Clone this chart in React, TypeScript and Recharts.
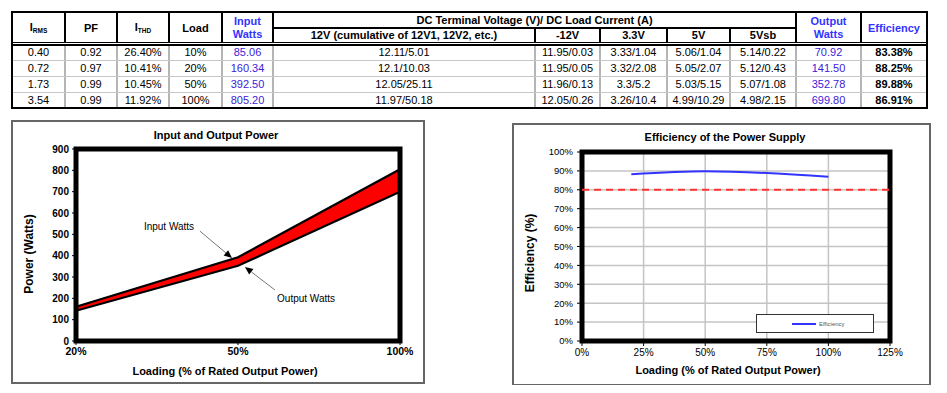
import React from 'react';
import {
  ComposedChart,
  LineChart,
  Area,
  Line,
  XAxis,
  YAxis,
  CartesianGrid,
  ReferenceArea,
  ReferenceLine,
  ReferenceDot,
  Legend,
} from 'recharts';

// ---------------- data ----------------
const irms = [0.4, 0.72, 1.73, 3.54];
const powerFactor = [0.92, 0.97, 0.99, 0.99];
const ithd = [26.4, 10.41, 10.45, 11.92];
const loadPct = [10, 20, 50, 100];
const inputWatts = [85.06, 160.34, 392.5, 805.2];
const rail12V = ['12.11/5.01', '12.1/10.03', '12.05/25.11', '11.97/50.18'];
const railMinus12V = ['11.95/0.03', '11.95/0.05', '11.96/0.13', '12.05/0.26'];
const rail3V3 = ['3.33/1.04', '3.32/2.08', '3.3/5.2', '3.26/10.4'];
const rail5V = ['5.06/1.04', '5.05/2.07', '5.03/5.15', '4.99/10.29'];
const rail5Vsb = ['5.14/0.22', '5.12/0.43', '5.07/1.08', '4.98/2.15'];
const outputWatts = [70.92, 141.5, 352.78, 699.8];
const efficiency = [83.38, 88.25, 89.88, 86.91];

const powerTicks = [0, 100, 200, 300, 400, 500, 600, 700, 800, 900];
const effYTicks = [0, 10, 20, 30, 40, 50, 60, 70, 80, 90, 100];
const effXTicks = [0, 25, 50, 75, 100, 125];
const efficiencyTarget = 80;

// rows shown in the charts (20%, 50%, 100%)
const chartRows = [1, 2, 3];

const powerData = chartRows.map((r, i) => ({
  x: i,
  label: loadPct[r] + '%',
  input: inputWatts[r],
  output: outputWatts[r],
}));

const effData = chartRows.map((r) => ({ load: loadPct[r], eff: efficiency[r] }));

const powerNotes = [
  { text: 'Input Watts', at: [0.574, 539], from: [0.765, 515], to: [0.963, 389] },
  { text: 'Output Watts', at: [1.42, 201], from: [1.228, 239], to: [1.043, 347] },
];

// ---------------- styling ----------------
const FONT = '"Liberation Sans", Arial, Helvetica, sans-serif';
const BLUE_HEAD = '#3333ff';
const BLUE_VAL = '#3b22d8';
const COLS = [12, 65, 117, 169, 222, 273, 535, 600, 667, 730, 796, 861, 927];
const T_TOP = 12;
const T_MID = 28;
const T_HEAD = 44;
const ROW_H = 16;

function Cell(props: { x1: number; x2: number; y1: number; y2: number; children: any; style?: any }) {
  const { x1, x2, y1, y2, children, style } = props;
  return (
    <div
      style={{
        position: 'absolute',
        left: x1,
        top: y1,
        width: x2 - x1,
        height: y2 - y1,
        display: 'flex',
        flexDirection: 'column',
        alignItems: 'center',
        justifyContent: 'center',
        textAlign: 'center',
        lineHeight: '13px',
        whiteSpace: 'nowrap',
        ...style,
      }}
    >
      {children}
    </div>
  );
}

function HLine({ x1, x2, y, color, w }: any) {
  return <div style={{ position: 'absolute', left: x1, top: y - w / 2, width: x2 - x1, height: w, background: color }} />;
}
function VLine({ x, y1, y2, color, w }: any) {
  return <div style={{ position: 'absolute', left: x - w / 2, top: y1, width: w, height: y2 - y1, background: color }} />;
}

function SpecTable() {
  const head = { fontWeight: 'bold', fontSize: 11 };
  const rowsCount = irms.length;
  const bottom = T_HEAD + ROW_H * rowsCount;
  const lines: any[] = [];
  // header verticals
  [1, 2, 3, 4, 5, 10, 11].forEach((c) =>
    lines.push(<VLine key={'hv' + c} x={COLS[c]} y1={T_TOP} y2={T_HEAD - 1} color="#000" w={1.2} />)
  );
  [6, 7, 8, 9].forEach((c) =>
    lines.push(<VLine key={'hs' + c} x={COLS[c]} y1={T_MID} y2={T_HEAD - 1} color="#000" w={1.2} />)
  );
  // data verticals
  for (let c = 1; c < COLS.length - 1; c++) {
    lines.push(<VLine key={'dv' + c} x={COLS[c]} y1={T_HEAD + 2} y2={bottom} color="#b4b4b4" w={2} />);
  }
  // data horizontals
  for (let r = 1; r < rowsCount; r++) {
    lines.push(<HLine key={'dh' + r} x1={COLS[0]} x2={COLS[COLS.length - 1]} y={T_HEAD + ROW_H * r} color="#c8c8c8" w={1} />);
  }
  const dataRows = irms.map((_, i) => [
    { t: irms[i].toFixed(2) },
    { t: powerFactor[i].toFixed(2) },
    { t: ithd[i].toFixed(2) + '%' },
    { t: loadPct[i] + '%' },
    { t: inputWatts[i].toFixed(2), s: { color: BLUE_VAL } },
    { t: rail12V[i] },
    { t: railMinus12V[i] },
    { t: rail3V3[i] },
    { t: rail5V[i] },
    { t: rail5Vsb[i] },
    { t: outputWatts[i].toFixed(2), s: { color: BLUE_VAL } },
    { t: efficiency[i].toFixed(2) + '%', s: { fontWeight: 'bold' } },
  ]);
  return (
    <div>
      {lines}
      <HLine x1={COLS[5]} x2={COLS[10]} y={T_MID} color="#000" w={1.2} />
      <HLine x1={COLS[0]} x2={COLS[12]} y={T_HEAD - 1.5} color="#000" w={1.2} />
      <HLine x1={COLS[0]} x2={COLS[12]} y={T_HEAD + 1} color="#000" w={1.2} />
      <div
        style={{
          position: 'absolute',
          left: COLS[0] - 1,
          top: T_TOP - 1,
          width: COLS[12] - COLS[0] + 2,
          height: bottom - T_TOP + 2,
          border: '2px solid #000',
          boxSizing: 'border-box',
        }}
      />
      <Cell x1={COLS[0]} x2={COLS[1]} y1={T_TOP} y2={T_HEAD} style={head}>
        <span>
          I<span style={{ fontSize: 6.5, position: 'relative', top: 2 }}>RMS</span>
        </span>
      </Cell>
      <Cell x1={COLS[1]} x2={COLS[2]} y1={T_TOP} y2={T_HEAD} style={head}>PF</Cell>
      <Cell x1={COLS[2]} x2={COLS[3]} y1={T_TOP} y2={T_HEAD} style={head}>
        <span>
          I<span style={{ fontSize: 6.5, position: 'relative', top: 2 }}>THD</span>
        </span>
      </Cell>
      <Cell x1={COLS[3]} x2={COLS[4]} y1={T_TOP} y2={T_HEAD} style={head}>Load</Cell>
      <Cell x1={COLS[4]} x2={COLS[5]} y1={T_TOP} y2={T_HEAD} style={{ ...head, color: BLUE_HEAD }}>
        <span>Input</span>
        <span>Watts</span>
      </Cell>
      <Cell x1={COLS[5]} x2={COLS[10]} y1={T_TOP} y2={T_MID} style={head}>
        DC Terminal Voltage (V)/ DC Load Current (A)
      </Cell>
      <Cell x1={COLS[5]} x2={COLS[6]} y1={T_MID} y2={T_HEAD - 2} style={head}>
        12V (cumulative of 12V1, 12V2, etc.)
      </Cell>
      <Cell x1={COLS[6]} x2={COLS[7]} y1={T_MID} y2={T_HEAD - 2} style={head}>-12V</Cell>
      <Cell x1={COLS[7]} x2={COLS[8]} y1={T_MID} y2={T_HEAD - 2} style={head}>3.3V</Cell>
      <Cell x1={COLS[8]} x2={COLS[9]} y1={T_MID} y2={T_HEAD - 2} style={head}>5V</Cell>
      <Cell x1={COLS[9]} x2={COLS[10]} y1={T_MID} y2={T_HEAD - 2} style={head}>5Vsb</Cell>
      <Cell x1={COLS[10]} x2={COLS[11]} y1={T_TOP} y2={T_HEAD} style={{ ...head, color: BLUE_HEAD }}>
        <span>Output</span>
        <span>Watts</span>
      </Cell>
      <Cell x1={COLS[11]} x2={COLS[12]} y1={T_TOP} y2={T_HEAD} style={{ ...head, color: BLUE_HEAD }}>
        Efficiency
      </Cell>
      {dataRows.map((row, i) =>
        row.map((c: any, j) => (
          <Cell
            key={i + '-' + j}
            x1={COLS[j]}
            x2={COLS[j + 1]}
            y1={T_HEAD + ROW_H * i}
            y2={T_HEAD + ROW_H * (i + 1)}
            style={{ fontSize: 11, ...(c.s || {}) }}
          >
            {c.t}
          </Cell>
        ))
      )}
    </div>
  );
}

function Arrow(p: any) {
  const { x1, y1, x2, y2 } = p;
  if (![x1, y1, x2, y2].every((v) => typeof v === 'number' && isFinite(v))) return null;
  const a = Math.atan2(y2 - y1, x2 - x1);
  const L = 8;
  const W = 3.5;
  const bx = x2 - L * Math.cos(a);
  const by = y2 - L * Math.sin(a);
  const px = -Math.sin(a) * W;
  const py = Math.cos(a) * W;
  return (
    <g>
      <line x1={x1} y1={y1} x2={bx} y2={by} stroke="#777" strokeWidth={1} />
      <polygon points={`${x2},${y2} ${bx + px},${by + py} ${bx - px},${by - py}`} fill="#000" />
    </g>
  );
}

function Overlay({ x, y, text, size, bold, rotate }: any) {
  return (
    <div
      style={{
        position: 'absolute',
        left: x,
        top: y,
        transform: `translate(-50%, -50%)${rotate ? ' rotate(-90deg)' : ''}`,
        whiteSpace: 'nowrap',
        fontSize: size,
        fontWeight: bold ? 'bold' : 'normal',
        lineHeight: 1,
      }}
    >
      {text}
    </div>
  );
}

function PowerChart() {
  return (
    <>
      <div
        style={{
          position: 'absolute',
          left: 11,
          top: 120,
          width: 414,
          height: 264,
          border: '2px solid #666',
          boxSizing: 'border-box',
        }}
      />
      <div style={{ position: 'absolute', left: 12, top: 121 }}>
        <ComposedChart width={412} height={262} data={powerData} margin={{ top: 28, right: 24, bottom: 0, left: 0 }}>
          <XAxis
            dataKey="x"
            type="number"
            domain={[0, 2]}
            ticks={[0, 1, 2]}
            tickFormatter={(v: number) => powerData[v] ? powerData[v].label : ''}
            height={42}
            axisLine={false}
            tickSize={4}
            tickMargin={3}
            tickLine={{ stroke: '#000' }}
            tick={{ fill: '#000', fontSize: 10.5, fontWeight: 'bold' }}
            interval={0}
          />
          <YAxis
            type="number"
            domain={[0, 900]}
            ticks={powerTicks}
            width={64}
            axisLine={false}
            tickSize={4}
            tickMargin={3}
            tickLine={{ stroke: '#000' }}
            tick={{ fill: '#000', fontSize: 10, fontWeight: 'bold' }}
            interval={0}
          />
          <Area
            type="linear"
            dataKey={(d: any) => [d.output, d.input]}
            fill="#ff0000"
            fillOpacity={1}
            stroke="none"
            isAnimationActive={false}
          />
          <Line type="linear" dataKey="input" stroke="#000" strokeWidth={2.2} dot={false} isAnimationActive={false} />
          <Line type="linear" dataKey="output" stroke="#000" strokeWidth={2.2} dot={false} isAnimationActive={false} />
          <ReferenceArea x1={0} x2={2} y1={0} y2={900} fill="none" stroke="#000" strokeWidth={5} ifOverflow="visible" />
          {powerNotes.map((n) => (
            <ReferenceLine
              key={'a' + n.text}
              segment={[
                { x: n.from[0], y: n.from[1] },
                { x: n.to[0], y: n.to[1] },
              ]}
              shape={Arrow}
              ifOverflow="visible"
            />
          ))}
          {powerNotes.map((n) => (
            <ReferenceDot
              key={'t' + n.text}
              x={n.at[0]}
              y={n.at[1]}
              r={0}
              fill="none"
              stroke="none"
              ifOverflow="visible"
              label={{ value: n.text, position: 'center', fill: '#000', fontSize: 10 }}
            />
          ))}
        </ComposedChart>
      </div>
      <Overlay x={216} y={135} text="Input and Output Power" size={11} bold />
      <Overlay x={29} y={254} text="Power (Watts)" size={12} bold rotate />
      <Overlay x={225} y={371} text="Loading (% of Rated Output Power)" size={11} bold />
    </>
  );
}

function EffLegend() {
  return (
    <div
      style={{
        width: 118,
        height: 19,
        border: '1px solid #333',
        background: '#fff',
        boxSizing: 'border-box',
        position: 'relative',
      }}
    >
      <div style={{ position: 'absolute', left: 35, top: 8, width: 24, height: 2, background: '#3333ff' }} />
      <div style={{ position: 'absolute', left: 62, top: 5, fontSize: 6, color: '#555', lineHeight: '8px' }}>Efficiency</div>
    </div>
  );
}

function EfficiencyChart() {
  return (
    <>
      <div
        style={{
          position: 'absolute',
          left: 512,
          top: 123,
          width: 419,
          height: 263,
          border: '2px solid #666',
          boxSizing: 'border-box',
        }}
      />
      <div style={{ position: 'absolute', left: 513, top: 124 }}>
        <LineChart width={417} height={261} data={effData} margin={{ top: 28, right: 40, bottom: 0, left: 0 }}>
          <CartesianGrid stroke="#c4c4c4" strokeWidth={1.5} />
          <XAxis
            dataKey="load"
            type="number"
            domain={[0, 125]}
            ticks={effXTicks}
            tickFormatter={(v: number) => v + '%'}
            height={44}
            axisLine={false}
            tickSize={5}
            tickMargin={3}
            tickLine={{ stroke: '#000' }}
            tick={{ fill: '#000', fontSize: 10 }}
            interval={0}
          />
          <YAxis
            type="number"
            domain={[0, 100]}
            ticks={effYTicks}
            tickFormatter={(v: number) => v + '%'}
            width={69}
            axisLine={false}
            tickSize={5}
            tickMargin={4}
            tickLine={{ stroke: '#000' }}
            tick={{ fill: '#000', fontSize: 9.5 }}
            interval={0}
          />
          <ReferenceLine y={efficiencyTarget} stroke="#ff3333" strokeWidth={2} strokeDasharray="7 5" />
          <Line
            type="monotone"
            dataKey="eff"
            stroke="#3333ff"
            strokeWidth={2}
            dot={false}
            isAnimationActive={false}
          />
          <ReferenceArea x1={0} x2={125} y1={0} y2={100} fill="none" stroke="#000" strokeWidth={5} ifOverflow="visible" />
          <Legend
            layout="horizontal"
            verticalAlign="middle"
            align="center"
            content={() => <EffLegend />}
            wrapperStyle={{ left: 243, top: 190, width: 118, height: 19 }}
          />
        </LineChart>
      </div>
      <Overlay x={725} y={137} text="Efficiency of the Power Supply" size={11} bold />
      <Overlay x={530} y={253} text="Efficiency (%)" size={12} bold rotate />
      <Overlay x={728} y={370} text="Loading (% of Rated Output Power)" size={11} bold />
    </>
  );
}

export default function App() {
  return (
    <div
      style={{
        position: 'relative',
        width: 947,
        height: 393,
        margin: -8,
        background: '#fff',
        overflow: 'hidden',
        fontFamily: FONT,
        color: '#000',
      }}
    >
      <SpecTable />
      <PowerChart />
      <EfficiencyChart />
    </div>
  );
}
